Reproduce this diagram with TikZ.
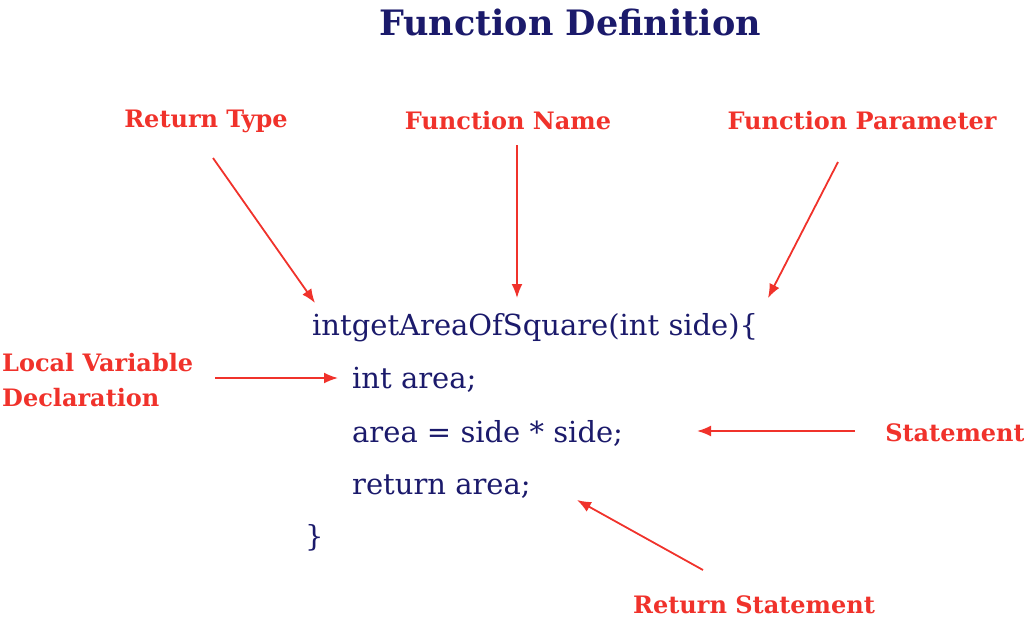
\documentclass[tikz,border=0pt]{standalone}
\usepackage{fontspec}
\usetikzlibrary{arrows.meta}
\setmainfont{DejaVu Serif}
\definecolor{navy}{HTML}{1B1A6B}
\definecolor{lab}{HTML}{F0322B}
\begin{document}
\begin{tikzpicture}[x=1pt,y=-1pt,
  lbl/.style={text=lab,font=\fontsize{24}{35}\selectfont\bfseries,inner sep=0},
  code/.style={text=navy,font=\fontsize{29}{34}\selectfont,anchor=west,inner sep=0},
  arr/.style={draw=lab,line width=1.8pt,-{Latex[length=14pt,width=11pt]}}]
\useasboundingbox (0,0) rectangle (1024,625);
\node[text=navy,font=\fontsize{35}{40}\selectfont\bfseries] (title) at (570,22) {Function Definition};
\node[lbl] (rt) at (206,121) {Return Type};
\node[lbl] (fn) at (508,121) {Function Name};
\node[lbl] (fp) at (862,121) {Function Parameter};
\node[lbl,anchor=west,align=left] (lv) at (2,380) {Local Variable\\Declaration};
\node[lbl] (st) at (955,433) {Statement};
\node[lbl] (rs) at (754,605) {Return Statement};
\node[code] (c1) at (312,328) {intgetAreaOfSquare(int side)\{};
\node[code] (c2) at (352,380) {int area;};
\node[code] (c3) at (352,433) {area = side * side;};
\node[code] (c4) at (352,487) {return area;};
\node[code] (c5) at (305,538) {\}};
\coordinate (a1) at (213,158); \coordinate (b1) at (315,303);
\coordinate (a2) at (517,145); \coordinate (b2) at (517,298);
\coordinate (a3) at (838,162); \coordinate (b3) at (768,298);
\coordinate (a4) at (215,378); \coordinate (b4) at (338,378);
\coordinate (a5) at (855,431); \coordinate (b5) at (697,431);
\coordinate (a6) at (703,570); \coordinate (b6) at (577,500);
\draw[arr] (a1) -- (b1);
\draw[arr] (a2) -- (b2);
\draw[arr] (a3) -- (b3);
\draw[arr] (a4) -- (b4);
\draw[arr] (a5) -- (b5);
\draw[arr] (a6) -- (b6);
\end{tikzpicture}
\end{document}
